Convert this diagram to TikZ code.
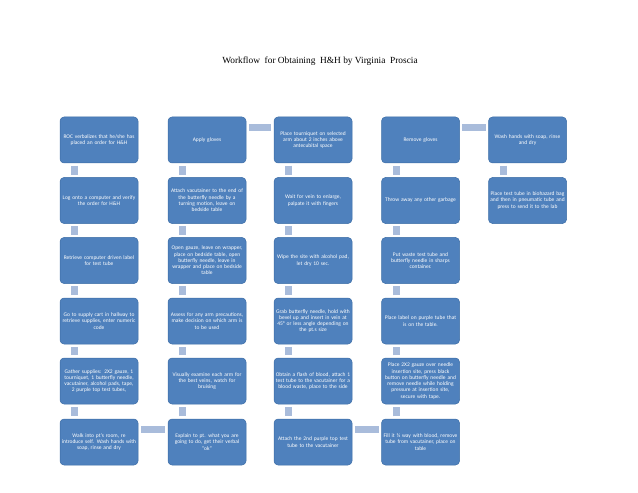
\documentclass[tikz,border=0pt]{standalone}
\usepackage{fontspec}
\setmainfont{Carlito}
\newfontfamily\titlefont{Liberation Serif}
\definecolor{stepblue}{HTML}{4F81BD}
\definecolor{stepedge}{HTML}{3C6DA6}
\definecolor{linkblue}{HTML}{A9BCDB}
\tikzset{
  stepbox/.style={shape=rectangle,rounded corners=4bp,fill=stepblue,draw=stepedge,line width=0.5bp,
    minimum width=78bp,minimum height=46bp,text width=77bp,align=center,inner sep=0.5bp,
    text=white,font=\fontsize{5.5}{6.3}\selectfont},
  link/.style={draw=linkblue,line width=7bp,line cap=butt,shorten <=2.5bp,shorten >=2.5bp}
}
\begin{document}
\begin{tikzpicture}[x=1bp,y=-1bp]
\useasboundingbox (0,0) rectangle (638,493);
\node(title) at (320,61) {\titlefont\fontsize{9.4}{11}\selectfont Workflow\ \ for Obtaining\ \ H\&H by Virginia\ \ Proscia};
\node(1) at (99,140)[stepbox]        {ROC verbalizes that he/she has\\ placed an order for H\&H};
\node(2) at (99,200.5)[stepbox]      {Log onto a computer and verify\\ the order for H\&H};
\node(3) at (99,260.5)[stepbox]      {Retrieve computer driven label\\ for test tube};
\node(4) at (99,321)[stepbox]        {Go to supply cart in hallway to\\ retrieve supplies, enter numeric\\ code};
\node(5) at (99,381)[stepbox]        {Gather supplies: 2X2 gauze, 1\\ tourniquet, 1 butterfly needle,\\ vacutainer, alcohol pads, tape,\\ 2 purple top test tubes,};
\node(6) at (99,442)[stepbox]        {Walk into pt's room, re\\ introduce self. Wash hands with\\ soap, rinse and dry};
\node(7) at (207,442)[stepbox]       {Explain to pt. what you are\\ going to do, get their verbal\\ ``ok''};
\node(8) at (207,381)[stepbox]       {Visually examine each arm for\\ the best veins, watch for\\ bruising};
\node(9) at (207,321)[stepbox]       {Assess for any arm precautions,\\ make decision on which arm is\\ to be used};
\node(10) at (207,260.5)[stepbox]    {Open gauze, leave on wrapper,\\ place on bedside table, open\\ butterfly needle, leave in\\ wrapper and place on bedside\\ table};
\node(11) at (207,200.5)[stepbox]    {Attach vacutainer to the end of\\ the butterfly needle by a\\ turning motion, leave on\\ bedside table};
\node(12) at (207,140)[stepbox]      {Apply gloves};
\node(13) at (313,140)[stepbox]      {Place tourniquet on selected\\ arm about 2 inches above\\ antecubital space};
\node(14) at (313,200.5)[stepbox]    {Wait for vein to enlarge,\\ palpate it with fingers};
\node(15) at (313,260.5)[stepbox]    {Wipe the site with alcohol pad,\\ let dry 10 sec.};
\node(16) at (313,321)[stepbox]      {Grab butterfly needle, hold with\\ bevel up and insert in vein at\\ 45° or less angle depending on\\ the pt.s size};
\node(17) at (313,381)[stepbox]      {Obtain a flash of blood, attach 1\\ test tube to the vacutainer for a\\ blood waste, place to the side};
\node(18) at (313,442)[stepbox]      {Attach the 2nd purple top test\\ tube to the vacutainer};
\node(19) at (420.5,442)[stepbox]    {Fill it ¾ way with blood, remove\\ tube from vacutainer, place on\\ table};
\node(20) at (420.5,381)[stepbox]    {Place 2X2 gauze over needle\\ insertion site, press black\\ button on butterfly needle and\\ remove needle while holding\\ pressure at insertion site,\\ secure with tape.};
\node(21) at (420.5,321)[stepbox]    {Place label on purple tube that\\ is on the table.};
\node(22) at (420.5,260.5)[stepbox]  {Put waste test tube and\\ butterfly needle in sharps\\ container.};
\node(23) at (420.5,200.5)[stepbox]  {Throw away any other garbage};
\node(24) at (420.5,140)[stepbox]    {Remove gloves};
\node(25) at (527.5,140)[stepbox]    {Wash hands with soap, rinse\\ and dry};
\node(26) at (527.5,200.5)[stepbox]  {Place test tube in biohazard bag\\ and then in pneumatic tube and\\ press to send it to the lab};
\path [link]
  ([xshift=15bp]1.south west)   edge ([xshift=15bp]2.north west)
  ([xshift=15bp]2.south west)   edge ([xshift=15bp]3.north west)
  ([xshift=15bp]3.south west)   edge ([xshift=15bp]4.north west)
  ([xshift=15bp]4.south west)   edge ([xshift=15bp]5.north west)
  ([xshift=15bp]5.south west)   edge ([xshift=15bp]6.north west)
  ([yshift=-10.5bp]6.north east) edge ([yshift=-10.5bp]7.north west)
  ([xshift=15bp]7.north west)   edge ([xshift=15bp]8.south west)
  ([xshift=15bp]8.north west)   edge ([xshift=15bp]9.south west)
  ([xshift=15bp]9.north west)   edge ([xshift=15bp]10.south west)
  ([xshift=15bp]10.north west)  edge ([xshift=15bp]11.south west)
  ([xshift=15bp]11.north west)  edge ([xshift=15bp]12.south west)
  ([yshift=-10.5bp]12.north east) edge ([yshift=-10.5bp]13.north west)
  ([xshift=15bp]13.south west)  edge ([xshift=15bp]14.north west)
  ([xshift=15bp]14.south west)  edge ([xshift=15bp]15.north west)
  ([xshift=15bp]15.south west)  edge ([xshift=15bp]16.north west)
  ([xshift=15bp]16.south west)  edge ([xshift=15bp]17.north west)
  ([xshift=15bp]17.south west)  edge ([xshift=15bp]18.north west)
  ([yshift=-10.5bp]18.north east) edge ([yshift=-10.5bp]19.north west)
  ([xshift=15bp]19.north west)  edge ([xshift=15bp]20.south west)
  ([xshift=15bp]20.north west)  edge ([xshift=15bp]21.south west)
  ([xshift=15bp]21.north west)  edge ([xshift=15bp]22.south west)
  ([xshift=15bp]22.north west)  edge ([xshift=15bp]23.south west)
  ([xshift=15bp]23.north west)  edge ([xshift=15bp]24.south west)
  ([yshift=-10.5bp]24.north east) edge ([yshift=-10.5bp]25.north west)
  ([xshift=15bp]25.south west)  edge ([xshift=15bp]26.north west);
\end{tikzpicture}
\end{document}
